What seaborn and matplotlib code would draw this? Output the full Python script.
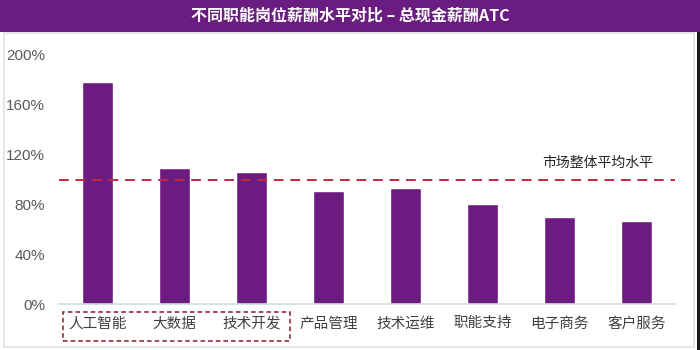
import matplotlib
matplotlib.use("Agg")
import matplotlib.pyplot as plt
from matplotlib.patches import Rectangle
import seaborn as sns
import pandas as pd

# Salary level of each job function relative to the market average (ATC)
categories = ["人工智能", "大数据", "技术开发", "产品管理", "技术运维", "职能支持", "电子商务", "客户服务"]
values = [178, 109, 106, 91, 93, 80, 70, 67]
market_avg = 100
y_ticks = [0, 40, 80, 120, 160, 200]
y_tick_labels = ["0%", "40%", "80%", "120%", "160%", "200%"]
title = "不同职能岗位薪酬水平对比 – 总现金薪酬ATC"
avg_label = "市场整体平均水平"

sns.set_theme(style="white")
plt.rcParams["font.family"] = ["Noto Sans CJK SC", "DejaVu Sans"]

purple = "#6C1B80"
df = pd.DataFrame({"职能": categories, "薪酬": values})

fig = plt.figure(figsize=(7, 3.5), dpi=100)
fig.patch.set_facecolor("white")

# Title banner
fig.patches.append(Rectangle((0, 1 - 32 / 350), 1, 32 / 350, transform=fig.transFigure,
                             facecolor="#6A1C80", edgecolor="none", zorder=0))
fig.text(0.5, 1 - 16 / 350, title, color="white", fontsize=11.5, fontweight="bold",
         ha="center", va="center")

# Light frame around the chart body and dark right edge
fig.patches.append(Rectangle((4 / 700, 3 / 350), 690 / 700, 314 / 350, transform=fig.transFigure,
                             facecolor="none", edgecolor="#E2E2E2", linewidth=1.2, zorder=0))
fig.patches.append(Rectangle((697 / 700, 0), 3 / 700, 1 - 32 / 350, transform=fig.transFigure,
                             facecolor="#1A1A1A", edgecolor="none", zorder=0))

ax = fig.add_axes([59 / 700, 46 / 350, 616 / 700, 249 / 350])
sns.barplot(data=df, x="职能", y="薪酬", color=purple, saturation=1, width=0.41, ax=ax)
ax.set_xlim(-0.5, len(categories) - 0.5)
ax.set_ylim(0, 200)
ax.set_yticks(y_ticks)
ax.set_yticklabels(y_tick_labels, fontfamily=["Liberation Sans", "DejaVu Sans"])
ax.set_xlabel("")
ax.set_ylabel("")
ax.tick_params(axis="y", labelsize=11, colors="#595959", length=0, pad=10)
ax.tick_params(axis="x", labelsize=10.5, colors="#404040", length=0, pad=9)
for s in ["top", "right", "left"]:
    ax.spines[s].set_visible(False)
ax.spines["bottom"].set_color("#D9D9D9")
ax.spines["bottom"].set_linewidth(1.2)
ax.set_facecolor("white")

# Market average reference line
ax.axhline(market_avg, color="#C0283E", linestyle=(0, (5, 3.5)), linewidth=1.4, zorder=3)
ax.text(6.5, market_avg + 8, avg_label, fontsize=10, color="#262626", ha="center", va="bottom")

# Dashed box highlighting the top three functions
box = Rectangle((-0.45, -0.148), 2.95, 0.116, transform=ax.get_xaxis_transform(),
                facecolor="none", edgecolor="#8B1A2B", linestyle=(0, (3, 2)),
                linewidth=1.1, clip_on=False)
ax.add_patch(box)

fig.savefig("out.png", dpi=100, facecolor="white")
